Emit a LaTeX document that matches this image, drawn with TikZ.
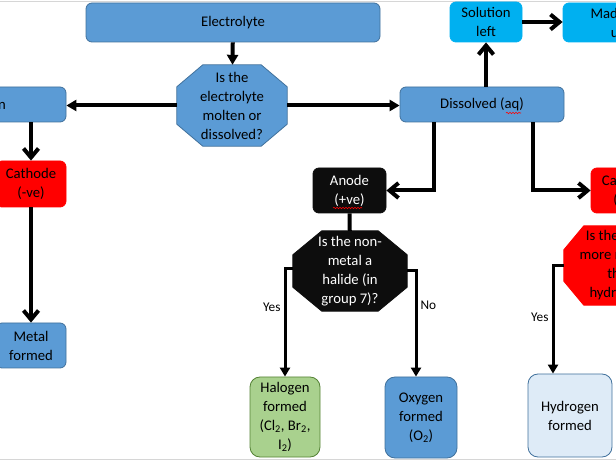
\documentclass[tikz,border=0pt]{standalone}
\usepackage{fontspec}
\setmainfont{Carlito}
\usetikzlibrary{arrows.meta,backgrounds,decorations.pathmorphing}
\definecolor{boxblue}{HTML}{5B9BD5}
\definecolor{edgeblue}{HTML}{41719C}
\definecolor{skyblue}{HTML}{00B0F0}
\definecolor{leafgreen}{HTML}{A9D18E}
\definecolor{edgegreen}{HTML}{548235}
\definecolor{paleblue}{HTML}{DEEBF7}
\definecolor{nearblack}{HTML}{0D0D0D}
\definecolor{rulegray}{HTML}{D6D6D6}
\begin{document}
\begin{tikzpicture}[x=1pt, y=-1pt, line join=miter,
    font=\fontsize{14.7}{19}\selectfont,
    flowbox/.style={rectangle, rounded corners=6pt, draw=edgeblue, fill=boxblue,
      line width=0.8pt, align=center, inner sep=1pt},
    hotbox/.style={flowbox, draw=red, fill=red},
    darkbox/.style={flowbox, draw=nearblack, fill=nearblack, text=white},
    skybox/.style={flowbox, draw=skyblue, fill=skyblue},
    endbox/.style={flowbox, rounded corners=10pt},
    query/.style={rectangle, align=center, inner sep=0pt},
    mainline/.style={line width=4pt},
    barb/.style={mainline, -{Straight Barb[length=9pt, width=15pt]}},
    solid/.style={mainline, -{Triangle[length=10pt, width=11pt]}},
    branch/.style={line width=3pt, -{Triangle[length=9pt, width=10pt]}},
    tag/.style={font=\fontsize{13.3}{16}\selectfont, inner sep=3pt},
    squiggle/.style={red, line width=0.6pt, decorate,
      decoration={snake, amplitude=0.7pt, segment length=3pt}}]
  \useasboundingbox (0,0) rectangle (616,462);
  \clip (0,0) rectangle (616,462);
  % page edges
  \draw[rulegray, line width=1pt] (0,1.5) -- (616,1.5);
  \draw[rulegray, line width=1pt] (0,459.5) -- (616,459.5);
  % top row
  \node[flowbox, minimum width=294pt, minimum height=39pt] (electrolyte) at (233,22.5) {Electrolyte};
  \node[skybox, minimum width=72pt, minimum height=40pt] (leftover) at (486,22) {Solution\\left};
  \node[skybox, minimum width=124pt, minimum height=39pt] (madeof) at (625,22.5) {Made up of\\used};
  % first question
  \node[query, minimum width=110pt, minimum height=81pt] (state) at (232,105.5)
    {Is the\\electrolyte\\molten or\\dissolved?};
  \node[flowbox, minimum width=164pt, minimum height=35pt] (molten) at (-16,104.5) {Molten};
  \node[flowbox, minimum width=164pt, minimum height=35pt] (dissolved) at (482,104.5) {Dissolved (aq)};
  % electrodes
  \node[hotbox, minimum width=70pt, minimum height=46pt] (cathodeL) at (31,184) {Cathode\\(-ve)};
  \node[flowbox, minimum width=70pt, minimum height=45pt] (metal) at (31,345.5) {Metal\\formed};
  \node[darkbox, minimum width=73pt, minimum height=45pt] (anode) at (349.5,190.5) {Anode\\(+ve)};
  \node[hotbox, minimum width=72pt, minimum height=45pt] (cathodeR) at (627,190.5) {Cathode\\(-ve)};
  % second row of questions
  \node[query, text=white, minimum width=114pt, minimum height=80pt] (halide) at (350,271)
    {Is the non-\\metal a\\halide (in\\group 7)?};
  \node[query, minimum width=114pt, minimum height=79pt] (reactive) at (621,265.5)
    {Is the metal\\more reactive\\than\\hydrogen?};
  % octagons behind the questions
  \begin{scope}[on background layer]
    \clip (0,0) rectangle (616,462);
    \foreach \nd/\cx/\cy/\col/\rim in {state/26/22/boxblue/edgeblue,
        halide/29/24/nearblack/nearblack, reactive/20/24/red/red}
      \filldraw[fill=\col, draw=\rim, line width=0.8pt]
        ([xshift=\cx pt]\nd.north west) -- ([xshift=-\cx pt]\nd.north east)
        -- ([yshift=-\cy pt]\nd.north east) -- ([yshift=\cy pt]\nd.south east)
        -- ([xshift=-\cx pt]\nd.south east) -- ([xshift=\cx pt]\nd.south west)
        -- ([yshift=\cy pt]\nd.south west) -- ([yshift=-\cy pt]\nd.north west) -- cycle;
  \end{scope}
  % products
  \node[endbox, fill=leafgreen, draw=edgegreen, minimum width=70pt, minimum height=80pt]
    (halogen) at (285,417) {Halogen\\formed\\(Cl\textsubscript{2}, Br\textsubscript{2},\\I\textsubscript{2})};
  \node[endbox, minimum width=72pt, minimum height=81pt] (oxygen) at (421,417.5) {Oxygen\\formed\\(O\textsubscript{2})};
  \node[endbox, fill=paleblue, minimum width=84pt, minimum height=83pt] (hydrogen) at (570,415.5) {Hydrogen\\formed};
  % connectors
  \draw[solid] (electrolyte) -- (state);
  \draw[solid] (state.west) -- (state.west -| molten.east);
  \draw[solid] (state.east) -- (state.east -| dissolved.west);
  \draw[barb] (molten.south -| cathodeL) -- (cathodeL);
  \draw[barb] (cathodeL) -- (metal);
  \draw[barb] (dissolved.north -| leftover) -- (leftover);
  \draw[barb] (leftover.east) -- (leftover.east -| madeof.west);
  \draw[barb] ([xshift=-48pt]dissolved.south) |- (anode);
  \draw[barb] ([xshift=51pt]dissolved.south) |- (cathodeR);
  \draw[mainline] (anode) -- (halide);
  \draw[branch] ([yshift=2pt]halide.west) -| (halogen) node[tag, pos=0.68, left] {Yes};
  \draw[branch] (halide.east) -| ([xshift=-5pt]oxygen.north) node[tag, pos=0.66, right] {No};
  \draw[branch] (reactive.west) -| ([xshift=-17pt]hydrogen.north) node[tag, pos=0.74, left] {Yes};
  % spelling marks
  \draw[squiggle] (506,113) -- (521,113);
  \draw[squiggle] (18,200) -- (43,200);
  \draw[squiggle] (333,208) -- (362,208);
\end{tikzpicture}
\end{document}
